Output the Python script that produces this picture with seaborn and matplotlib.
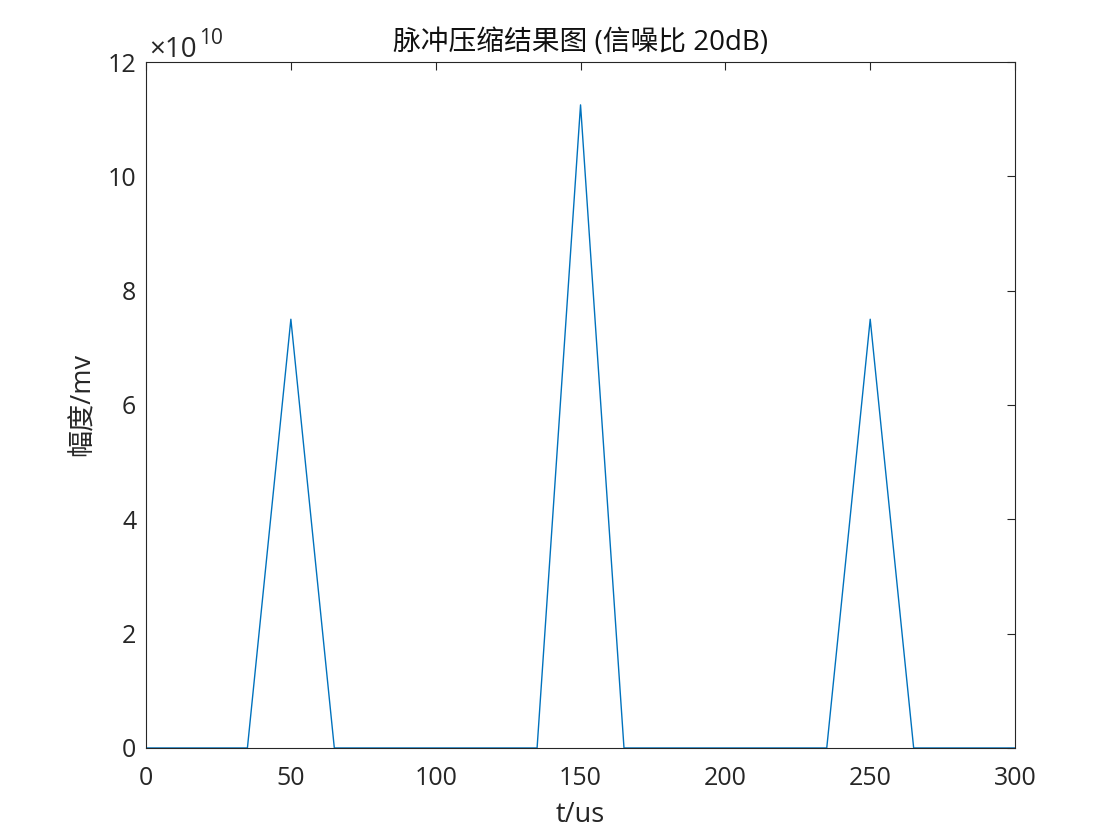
import numpy as np
import pandas as pd
import matplotlib
matplotlib.use("Agg")
import matplotlib.pyplot as plt
import seaborn as sns
from matplotlib.ticker import ScalarFormatter

# breakpoints of the compressed pulse result (t in us, amplitude in mv)
t_us = [0, 35, 50, 65, 135, 150, 165, 235, 250, 265, 300]
amplitude = [0, 0, 7.5e10, 0, 0, 11.25e10, 0, 0, 7.5e10, 0, 0]
x_ticks = [0, 50, 100, 150, 200, 250, 300]
y_ticks = [0, 2e10, 4e10, 6e10, 8e10, 10e10, 12e10]

sns.set_style("white")
plt.rcParams['font.family'] = ['Open Sans', 'Noto Sans CJK SC', 'DejaVu Sans']
plt.rcParams['axes.unicode_minus'] = False

df = pd.DataFrame({"t": t_us, "amp": amplitude})

fig = plt.figure(figsize=(11.19, 8.39), dpi=100)
ax = fig.add_axes([0.1305, 0.1085, 0.7766, 0.8176])

sns.lineplot(data=df, x="t", y="amp", color="#0072BD", linewidth=1.0, ax=ax)

ax.set_xlim(0, 300)
ax.set_ylim(0, 12e10)
ax.set_xticks(x_ticks)
ax.set_yticks(y_ticks)

# tick labels in units of 1e10, exponent shown MATLAB-style above the axis
fmt = ScalarFormatter()
fmt.set_powerlimits((10, 10))
ax.yaxis.set_major_formatter(fmt)
ax.yaxis.get_offset_text().set_visible(False)
ax.annotate("×10", xy=(0, 1), xycoords="axes fraction",
            xytext=(2.5, 3.6), textcoords="offset points",
            ha="left", va="baseline", fontsize=20, color="#262626")
ax.annotate("10", xy=(0, 1), xycoords="axes fraction",
            xytext=(38.5, 13), textcoords="offset points",
            ha="left", va="baseline", fontsize=15, color="#262626")

ax.tick_params(direction="in", length=6, width=0.8, colors="#262626",
               labelsize=18, top=True, right=True, pad=7)
ax.tick_params(axis="x", pad=13)
for s in ax.spines.values():
    s.set_visible(True)
    s.set_color("#262626")
    s.set_linewidth(0.8)

ax.set_xlabel("t/us", fontsize=19.5, color="#262626", labelpad=7)
ax.set_ylabel("幅度/mv", fontsize=19.5, color="#262626", labelpad=8)
ax.set_title("脉冲压缩结果图 (信噪比 20dB)", fontsize=20, color="#111111", pad=9)

fig.savefig("out.png", dpi=100, facecolor="white")
